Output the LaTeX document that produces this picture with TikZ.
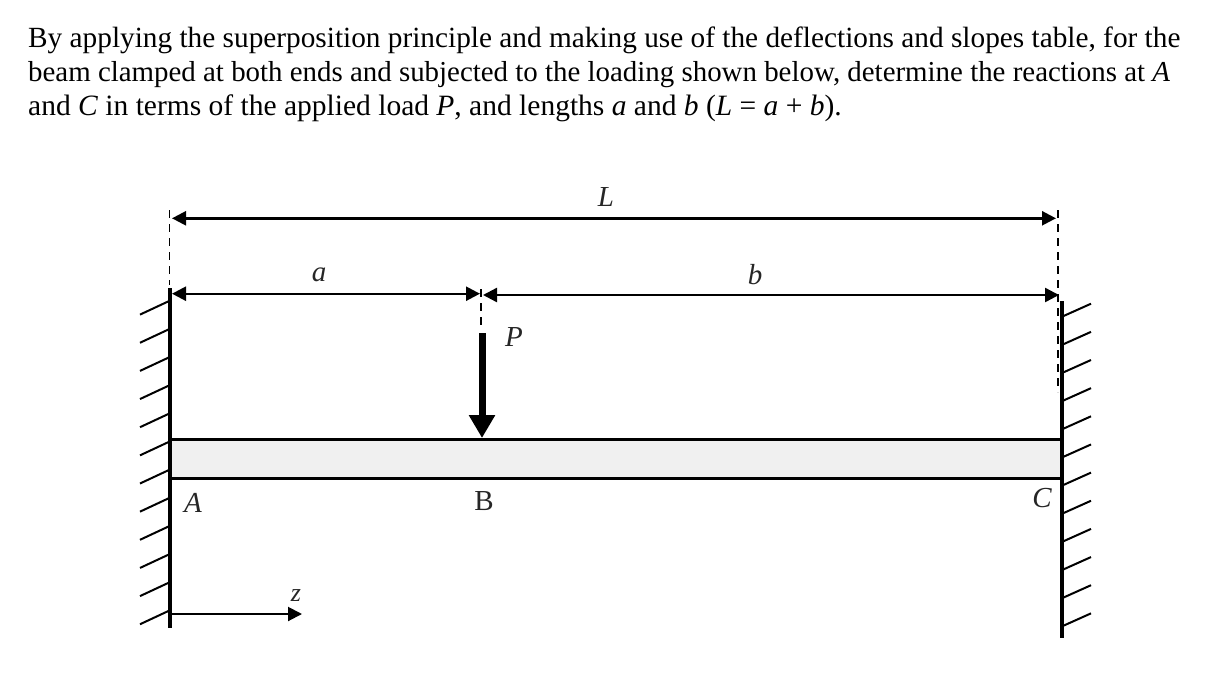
\documentclass[tikz,border=0pt]{standalone}
\usepackage{fontspec}
\setmainfont{Liberation Serif}
\usetikzlibrary{arrows.meta}
\tikzset{
  txt/.style={anchor=base west,inner sep=0pt},
  lab/.style={inner sep=0pt,text=black!85,font=\fontsize{29}{32}\selectfont\itshape},
  wall/.style={line width=3.4pt},
  hatch/.style={line width=2pt},
  beamedge/.style={line width=3.6pt},
  dim/.style={line width=2.4pt,{Triangle[length=14pt,width=14pt]}-{Triangle[length=14pt,width=14pt]}},
  guide/.style={line width=1.8pt,dash pattern=on 8pt off 6pt},
  load/.style={line width=7pt,-{Triangle[length=23pt,width=25pt]}},
  axis/.style={line width=2pt,-{Triangle[length=14pt,width=14pt]}}
}
\begin{document}
\begin{tikzpicture}[x=1pt,y=-1pt]
\useasboundingbox (0,0) rectangle (1228,680);
\fill[white] (0,0) rectangle (1228,680);
\node[txt,font=\fontsize{29.3}{34}\selectfont] (l1) at (28,47) {By applying the superposition principle and making use of the deflections and slopes table, for the};
\node[txt,font=\fontsize{28.9}{34}\selectfont] (l2) at (28,81) {beam clamped at both ends and subjected to the loading shown below, determine the reactions at \textit{A}};
\node[txt,font=\fontsize{29.5}{34}\selectfont] (l3) at (28,115) {and \textit{C} in terms of the applied load \textit{P}, and lengths \textit{a} and \textit{b} (\textit{L} = \textit{a} + \textit{b}).};
% beam
\coordinate (bTL) at (170,439.5);
\coordinate (bTR) at (1062,439.5);
\coordinate (bBL) at (170,478.5);
\coordinate (bBR) at (1062,478.5);
\fill[black!6] (bTL) rectangle (bBR);
\draw[beamedge] (bTL) -- (bTR);
\draw[beamedge] (bBL) -- (bBR);
% walls
\coordinate (wLt) at (170,288); \coordinate (wLb) at (170,628);
\coordinate (wRt) at (1062,301); \coordinate (wRb) at (1062,638);
\draw[wall] (wLt) -- (wLb);
\draw[wall] (wRt) -- (wRb);
\foreach \i in {0,...,11}{
  \draw[hatch] (170,300.6+28.15*\i) -- ++(-30,14);
  \draw[hatch] (1062,316.7+28.15*\i) -- ++(29,-13);
}
% guides
\coordinate (gLa) at (169.5,210); \coordinate (gLb) at (169.5,285);
\coordinate (gRa) at (1058,210); \coordinate (gRb) at (1058,392);
\coordinate (gMa) at (481,289); \coordinate (gMb) at (481,328);
\draw[guide] (gLa) -- (gLb);
\draw[guide,line width=2.2pt] (gRa) -- (gRb);
\draw[guide] (gMa) -- (gMb);
% dimensions
\coordinate (dLa) at (172,218.3); \coordinate (dLb) at (1056,218.3);
\coordinate (dAa) at (172,293.7); \coordinate (dAb) at (480,293.7);
\coordinate (dBa) at (483,295); \coordinate (dBb) at (1059,295);
\draw[dim] (dLa) -- (dLb);
\draw[dim] (dAa) -- (dAb);
\draw[dim] (dBa) -- (dBb);
% load
\coordinate (pT) at (482,333); \coordinate (pB) at (482,438);
\draw[load] (pT) -- (pB);
% axis
\coordinate (zA) at (170,614); \coordinate (zB) at (302,614);
\draw[axis] (zA) -- (zB);
% labels
\node[lab] (nL) at (606,197) {L};
\node[lab] (na) at (319,275) {a};
\node[lab] (nb) at (755,275) {b};
\node[lab] (nP) at (514,337) {P};
\node[lab] (nA) at (193,503) {A};
\node[lab,font=\fontsize{29}{32}\selectfont] (nB) at (484,501) {B};
\node[lab] (nC) at (1042,498) {C};
\node[lab,font=\fontsize{26}{30}\selectfont\itshape] (nz) at (296,596) {z};
\end{tikzpicture}
\end{document}
